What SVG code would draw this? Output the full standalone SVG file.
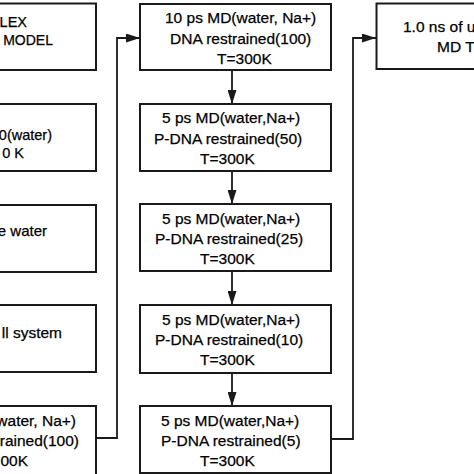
<svg xmlns="http://www.w3.org/2000/svg" width="474" height="474" viewBox="0 0 474 474">
<defs>
<style>
.box{fill:#fff;stroke:#1a1a1a;stroke-width:2}
.t{font-family:"Liberation Sans",Arial,sans-serif;font-size:15.5px;fill:#000;stroke:#000;stroke-width:0.25}
.e{text-anchor:end}
.c{fill:none;stroke:#1a1a1a;stroke-width:1.8}
</style>
<marker id="ah" markerUnits="userSpaceOnUse" markerWidth="14" markerHeight="9" refX="14" refY="4.5" orient="auto">
<path d="M0,0 L14,4.5 L0,9 z" fill="#1a1a1a"/>
</marker>
</defs>
<rect width="474" height="474" fill="#fff"/>

<g id="connectors">
<polyline class="c" points="96,438 117,438 117,38 140,38" marker-end="url(#ah)"/>
<line class="c" x1="232" y1="70" x2="232" y2="104" marker-end="url(#ah)"/>
<line class="c" x1="232" y1="171" x2="232" y2="204" marker-end="url(#ah)"/>
<line class="c" x1="232" y1="271" x2="232" y2="305" marker-end="url(#ah)"/>
<line class="c" x1="232" y1="373" x2="232" y2="406" marker-end="url(#ah)"/>
<polyline class="c" points="331,439 353,439 353,38 376,38" marker-end="url(#ah)"/>
</g>

<g id="left1">
<rect class="box" x="-100" y="3.5" width="196" height="66.5"/>
<text class="t e" x="27" y="27" style="font-size:14.5px">LEX</text>
<text class="t e" x="53" y="45" style="font-size:14px">MODEL</text>
</g>
<g id="left2">
<rect class="box" x="-100" y="104" width="196" height="67"/>
<text class="t e" x="52" y="140" style="font-size:14.5px">0(water)</text>
<text class="t e" x="24" y="158" style="font-size:14.5px">0 K</text>
</g>
<g id="left3">
<rect class="box" x="-100" y="205" width="196" height="67"/>
<text class="t e" x="47" y="236" style="font-size:15px">e water</text>
</g>
<g id="left4">
<rect class="box" x="-100" y="305" width="196" height="67"/>
<text class="t e" x="62" y="338" style="font-size:15.5px">ll system</text>
</g>
<g id="left5">
<rect class="box" x="-100" y="406" width="196" height="70"/>
<text class="t e" x="76" y="425.5">water, Na+)</text>
<text class="t e" x="79" y="446">rained(100)</text>
<text class="t e" x="28" y="466">00K</text>
</g>

<g id="mid1">
<rect class="box" x="140" y="4" width="191" height="66"/>
<text class="t" x="165" y="23">10 ps MD(water, Na+)</text>
<text class="t" x="170" y="43.5">DNA restrained(100)</text>
<text class="t" x="217" y="63.5">T=300K</text>
</g>
<g id="mid2">
<rect class="box" x="140" y="104" width="191" height="67"/>
<text class="t" x="162" y="123">5 ps MD(water,Na+)</text>
<text class="t" x="154" y="143.5">P-DNA restrained(50)</text>
<text class="t" x="200" y="163.5">T=300K</text>
</g>
<g id="mid3">
<rect class="box" x="140" y="204" width="191" height="67"/>
<text class="t" x="162" y="223.5">5 ps MD(water,Na+)</text>
<text class="t" x="155" y="244">P-DNA restrained(25)</text>
<text class="t" x="200" y="264">T=300K</text>
</g>
<g id="mid4">
<rect class="box" x="140" y="305" width="191" height="68"/>
<text class="t" x="162" y="324.5">5 ps MD(water,Na+)</text>
<text class="t" x="155" y="345">P-DNA restrained(10)</text>
<text class="t" x="200" y="365">T=300K</text>
</g>
<g id="mid5">
<rect class="box" x="140" y="406" width="191" height="67"/>
<text class="t" x="161" y="425.5">5 ps MD(water,Na+)</text>
<text class="t" x="161" y="446">P-DNA restrained(5)</text>
<text class="t" x="200" y="466">T=300K</text>
</g>

<g id="right1">
<rect class="box" x="376.5" y="3.5" width="200" height="65.5"/>
<text class="t" x="403" y="31.5">1.0 ns of u</text>
<text class="t" x="437" y="52">MD T</text>
</g>
</svg>
